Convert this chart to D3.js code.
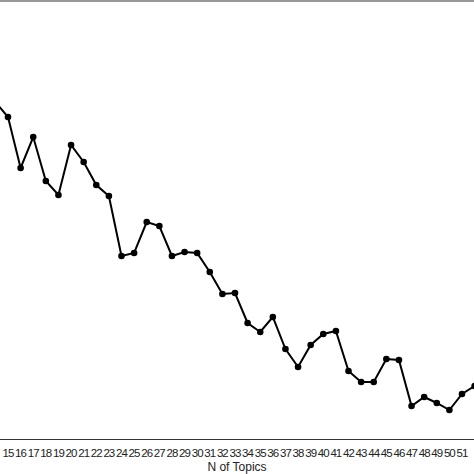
<!DOCTYPE html>
<html><head><meta charset="utf-8">
<script src="https://cdn.jsdelivr.net/npm/d3@7"></script>
<style>body{margin:0;background:#fff}</style></head>
<body><svg id="c" width="474" height="474"></svg>
<script>
const topics = d3.range(14, 53);
const scores = [3.28,3.13,2.62,2.93,2.49,2.35,2.85,2.68,2.45,2.34,1.74,1.77,2.08,2.04,1.74,1.78,1.77,1.58,1.36,1.37,1.07,0.98,1.13,0.81,0.63,0.85,0.96,0.99,0.59,0.48,0.48,0.71,0.70,0.24,0.33,0.27,0.20,0.36,0.44];
const tickLabels = d3.range(15, 52);
const svg = d3.select("#c");
const x = d3.scaleLinear().domain([15, 51]).range([8, 462]);
const y = d3.scaleLinear().domain([0, 4.3]).range([430, 0]);
svg.append("line").attr("x1",0).attr("x2",474).attr("y1",1).attr("y2",1).attr("stroke","#333").attr("stroke-width",1.2);
svg.append("line").attr("x1",0).attr("x2",474).attr("y1",439.5).attr("y2",439.5).attr("stroke","#333").attr("stroke-width",1.2);
const data = topics.map((t,i)=>({t, v:scores[i]}));
svg.append("path").datum(data).attr("fill","none").attr("stroke","#000").attr("stroke-width",2)
  .attr("d", d3.line().x(d=>x(d.t)).y(d=>y(d.v)));
svg.selectAll("circle").data(data).join("circle").attr("cx",d=>x(d.t)).attr("cy",d=>y(d.v)).attr("r",3.3).attr("fill","#000");
svg.selectAll("text.tk").data(tickLabels).join("text").attr("class","tk")
  .attr("x",d=>x(d)).attr("y",457).attr("text-anchor","middle")
  .attr("font-family","Liberation Sans, Arial, sans-serif").attr("font-size",11.5).attr("letter-spacing",-0.9).attr("fill","#222").text(d=>d);
svg.append("text").attr("x",237).attr("y",471).attr("text-anchor","middle")
  .attr("font-family","Liberation Sans, Arial, sans-serif").attr("font-size",12).attr("fill","#222").text("N of Topics");
</script></body></html>
